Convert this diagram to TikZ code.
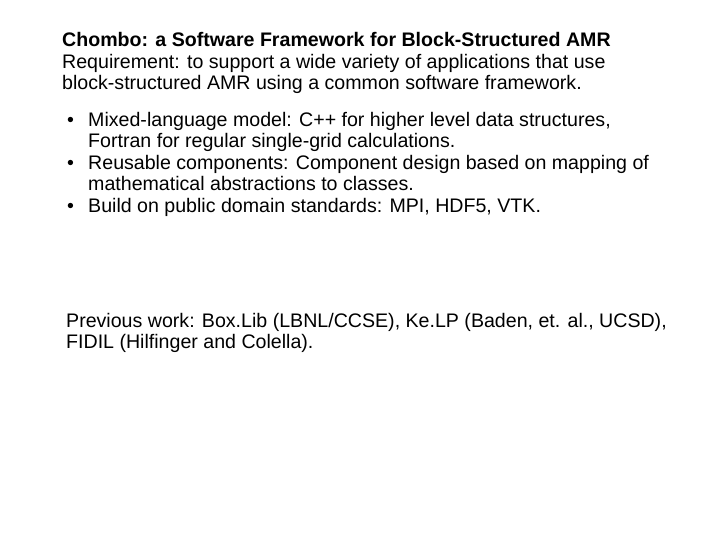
\documentclass[tikz,border=0pt]{standalone}
\usepackage{fontspec}
\setmainfont{Liberation Sans}
\begin{document}
\begin{tikzpicture}[x=1pt,y=-1pt,txt/.style={anchor=base west,inner sep=0pt,font=\fontsize{19.6}{21}\selectfont}]
\useasboundingbox (0,0) rectangle (720,540);
\node[txt] (t1) at (62,47) {\textbf{Chombo: a Software Framework for Block-Structured AMR}};
\node[txt] (t2) at (62,69) {Requirement: to support a wide variety of applications that use};
\node[txt] (t3) at (62,90) {block-structured AMR using a common software framework.};
\node[txt] (b1) at (67,127) {•};
\node[txt] (l1) at (88,127) {Mixed-language model: C++ for higher level data structures,};
\node[txt] (l2) at (88,148) {Fortran for regular single-grid calculations.};
\node[txt] (b2) at (67,170) {•};
\node[txt] (l3) at (88,170) {Reusable components: Component design based on mapping of};
\node[txt] (l4) at (88,191) {mathematical abstractions to classes.};
\node[txt] (b3) at (67,213) {•};
\node[txt] (l5) at (88,213) {Build on public domain standards: MPI, HDF5, VTK.};
\node[txt] (p1) at (66,327) {Previous work: Box.Lib (LBNL/CCSE), Ke.LP (Baden, et. al., UCSD),};
\node[txt] (p2) at (66,348) {FIDIL (Hilfinger and Colella).};
\end{tikzpicture}
\end{document}
